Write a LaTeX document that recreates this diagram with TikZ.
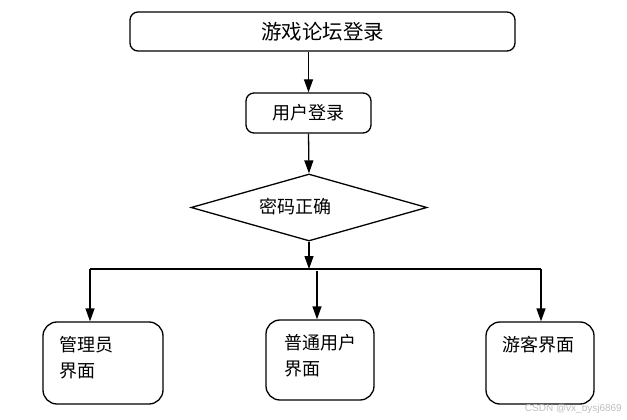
\documentclass[tikz,border=0pt]{standalone}
\usepackage{fontspec}
\newfontfamily\cjk{Noto Sans CJK SC}
\setmainfont{Liberation Sans}
\usetikzlibrary{shapes.geometric,arrows.meta}
\begin{document}
\begin{tikzpicture}[x=1pt,y=-1pt,
  every node/.style={inner sep=0pt},
  box/.style={draw, line width=1.3pt, rounded corners=8pt},
  leaf/.style={draw, line width=1.3pt, rounded corners=14pt},
  txt/.style={font=\cjk\fontsize{18}{26}\selectfont, align=left},
  conn/.style={line width=1.3pt, -{Triangle[width=9pt,length=13pt]}},
  plain/.style={line width=1.3pt}]
\useasboundingbox (0,0) rectangle (627,420);
% top
\node[box, minimum width=385pt, minimum height=39pt,
  font=\cjk\fontsize{20.5}{24}\selectfont] (title) at (322.5,31.5) {游戏论坛登录};
\node[box, minimum width=125pt, minimum height=40pt,
  font=\cjk\fontsize{18}{22}\selectfont] (login) at (308.5,113) {用户登录};
\node[draw, line width=1.3pt, shape=diamond, minimum width=236pt, minimum height=67pt] (check) at (309,207.5) {};
\node[txt, anchor=center] (checkt) at (295,207) {密码正确};
% leaves
\node[leaf, minimum width=120pt, minimum height=82pt] (admin) at (103,363) {};
\node[leaf, minimum width=108pt, minimum height=80pt] (user) at (320,360) {};
\node[leaf, minimum width=108pt, minimum height=82pt] (guest) at (540,363) {};
\node[txt, anchor=north west] (admint) at (59,336) {管理员\\界面};
\node[txt, anchor=north west] (usert) at (284,334) {普通用户\\界面};
\node[txt, anchor=north west] (guestt) at (502,336) {游客界面};
% bus
\coordinate (busL) at (90,269);
\coordinate (busR) at (541,269);
\coordinate (busM) at (317,271);
% connectors
\draw[conn] (title.south -| login.north) -- (login.north);
\draw[conn] (login.south) -- (check.north);
\draw[conn] (check.south) -- (check.south |- busL);
\draw[plain] (busL) -- (busR);
\draw[conn] (busL) -- (busL |- admin.north);
\draw[conn] (busM) -- (busM |- user.north);
\draw[conn] (busR) -- (busR |- guest.north);
% watermark
\node[anchor=east, text=black!25, font=\fontsize{10}{12}\selectfont] (wm) at (622,409) {CSDN @vx\_bysj6869};
\end{tikzpicture}
\end{document}
